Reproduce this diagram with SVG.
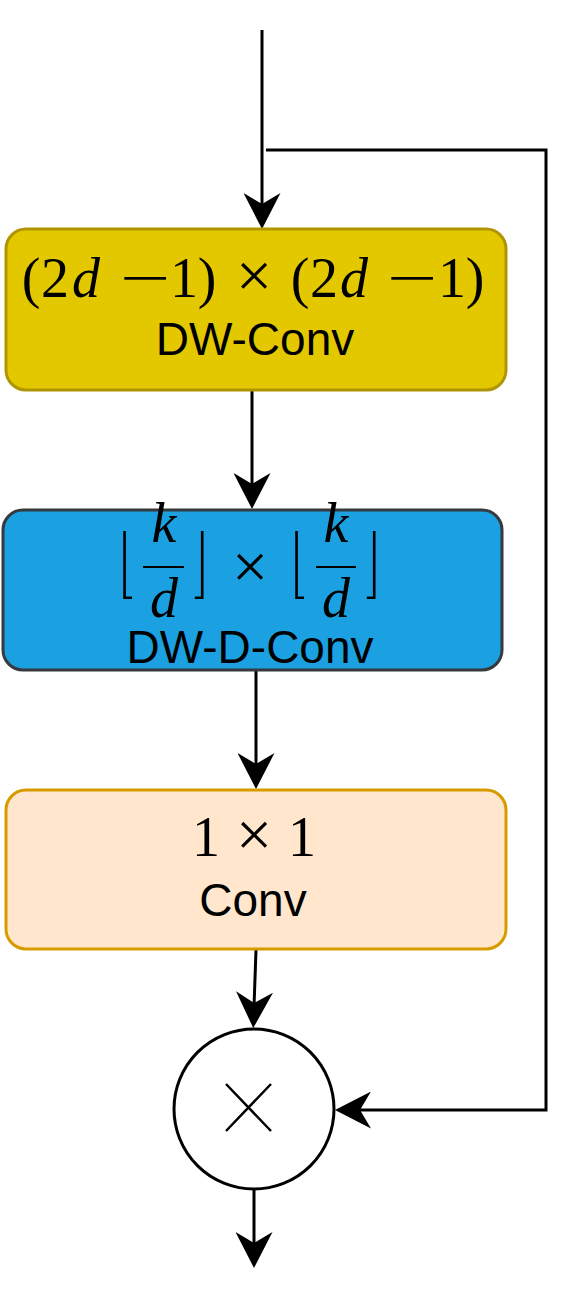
<svg xmlns="http://www.w3.org/2000/svg" width="580" height="1316" viewBox="0 0 580 1316">
<style>
.conn{fill:none;stroke:#000;stroke-width:3;marker-end:url(#arr)}
.lbl{font-family:"Liberation Sans",Arial,sans-serif;font-size:46px;fill:#000;text-anchor:middle}
.math{font-family:"Liberation Serif","Times New Roman",serif;font-size:56px;fill:#000;text-anchor:middle}
.it{font-style:italic}
.times{font-size:64px}
.flr{font-family:"DejaVu Sans",sans-serif;font-size:52px;fill:#000;stroke:#1ba1e2;stroke-width:2;vector-effect:non-scaling-stroke;text-anchor:middle}
</style>
<defs>
<marker id="arr" viewBox="0 0 36 37" refX="12" refY="18.5" markerWidth="36" markerHeight="37" markerUnits="userSpaceOnUse" orient="auto">
<path d="M0,0 L36,18.5 L0,37 L11,18.5 Z" fill="#000"/>
</marker>
</defs>
<rect width="580" height="1316" fill="#fff"/>
<g id="connectors">
<path class="conn" d="M262,30 V205"/>
<path class="conn" d="M266,150 H546 V1110 H359"/>
<path class="conn" d="M252,391 V485"/>
<path class="conn" d="M256,671 V765"/>
<path class="conn" d="M256,950 L254.1,1004"/>
<path class="conn" d="M254,1190 V1244"/>
</g>
<g id="dwconv">
<rect x="6" y="229" width="500" height="161" rx="20" fill="#e3c800" stroke="#b09500" stroke-width="3"/>
<text class="math" y="297"><tspan x="31">(</tspan><tspan x="55">2</tspan><tspan x="86" class="it">d</tspan><tspan x="184">1</tspan><tspan x="207">)</tspan><tspan x="254" class="times">×</tspan><tspan x="300">(</tspan><tspan x="324">2</tspan><tspan x="354" class="it">d</tspan><tspan x="452">1</tspan><tspan x="475">)</tspan></text>
<text class="math" transform="translate(145,297) scale(1.6,1)" x="0" y="0">−</text>
<text class="math" transform="translate(412,297) scale(1.6,1)" x="0" y="0">−</text>
<text class="lbl" x="255" y="355">DW-Conv</text>
</g>
<g id="dwdconv">
<rect x="3" y="510" width="499" height="160" rx="20" fill="#1ba1e2" stroke="#36393d" stroke-width="3"/>
<text class="flr" transform="matrix(1,0,0,1.53,0,589.5)" y="0"><tspan x="128">⌊</tspan><tspan x="199">⌋</tspan><tspan x="300">⌊</tspan><tspan x="371">⌋</tspan></text>
<text class="math it" y="542"><tspan x="164">k</tspan><tspan x="336">k</tspan></text>
<text class="math it" y="617"><tspan x="164">d</tspan><tspan x="336">d</tspan></text>
<text class="math times" y="588" x="250">×</text>
<line x1="143" y1="567" x2="184" y2="567" stroke="#000" stroke-width="2"/>
<line x1="316" y1="567" x2="356" y2="567" stroke="#000" stroke-width="2"/>
<text class="lbl" x="250" y="663">DW-D-Conv</text>
</g>
<g id="conv">
<rect x="6" y="790" width="500" height="159" rx="20" fill="#ffe6cc" stroke="#d79b00" stroke-width="3"/>
<text class="math" y="856"><tspan x="206">1</tspan><tspan x="254" class="times">×</tspan><tspan x="302">1</tspan></text>
<text class="lbl" x="253" y="916">Conv</text>
</g>
<g id="mult">
<circle cx="254" cy="1109" r="80" fill="#fff" stroke="#000" stroke-width="3"/>
<path d="M226,1084 L271,1131 M271,1084 L226,1131" stroke="#000" stroke-width="2.5" fill="none"/>
</g>
</svg>
